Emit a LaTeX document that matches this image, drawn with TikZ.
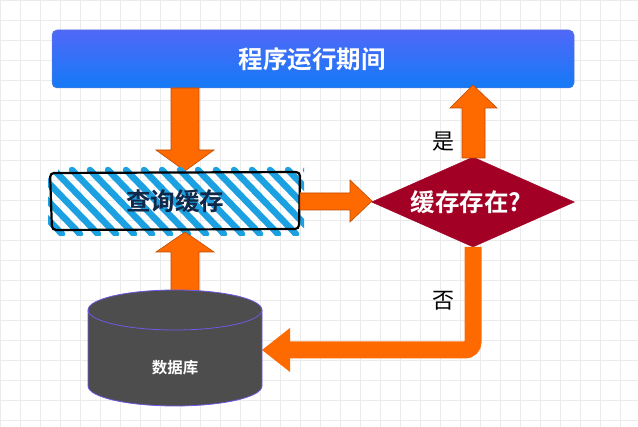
\documentclass[tikz,border=0pt]{standalone}
\usepackage{fontspec}
\setmainfont{Noto Sans CJK SC}[BoldFont={Noto Sans CJK SC Bold}]
\usetikzlibrary{shapes.geometric}
\definecolor{org}{HTML}{FF6A00}
\definecolor{orgd}{HTML}{C04A00}
\definecolor{hatch}{HTML}{1BA1E2}
\definecolor{navy}{HTML}{10284A}
\definecolor{wine}{HTML}{A20025}
\begin{document}
\begin{tikzpicture}[x=1pt,y=-1pt,
  barr/.style={fill=org,draw=orgd,line width=0.6pt},
  lbl/.style={font=\fontsize{24.5}{28}\selectfont\bfseries}]
\useasboundingbox (0,0) rectangle (638,427);
\fill[white] (0,0) rectangle (638,427);
\foreach \i in {0,20,...,640} \draw[black!8,line width=0.5pt] (\i,0) -- (\i,427);
\foreach \i in {0,20,...,420} \draw[black!8,line width=0.5pt] (0,\i) -- (638,\i);
% top bar
\shade[top color={rgb,255:red,80;green,104;blue,248},bottom color={rgb,255:red,20;green,122;blue,246},rounded corners=5pt] (52,30) rectangle (574,88);
\draw[rounded corners=5pt,draw={rgb,255:red,90;green,120;blue,220},line width=0.5pt] (52,30) rectangle (574,88);
\node[lbl,text=white] (run) at (312,59) {程序运行期间};
% arrow bar -> query
\draw[barr] (171,88) -- (199,88) -- (199,150) -- (214,150) -- (185,171) -- (156,150) -- (171,150) -- cycle;
% query box
\begin{scope}
\clip (48,166) rectangle (304,236);
\foreach \i in {-90,-72,...,320} \draw[hatch,line width=6.5pt,line cap=round] (\i,170) -- (\i+62,234);
\end{scope}
\fill[white] (46,166) rectangle (58,174);
\draw[black,line width=2.2pt,rounded corners=4pt] (50,173) -- (300,172) -- (299,229) -- (52,230) -- cycle;
\node[lbl,text=navy] (q) at (175,201) {查询缓存};
% arrow db -> query
\draw[barr] (171,292) -- (199,292) -- (199,252) -- (214,252) -- (185,232) -- (156,252) -- (171,252) -- cycle;
% arrow query -> diamond
\draw[barr] (300,193) -- (350,193) -- (350,180) -- (372,201) -- (350,222) -- (350,210) -- (300,210) -- cycle;
% diamond
\node[diamond,fill=wine,draw=wine,minimum width=203pt,minimum height=90pt,inner sep=0pt,aspect=2.25] (d) at (473,202) {};
\node[lbl,text=white] (dt) at (466,202) {缓存存在?};
% up arrow
\draw[barr] (462,158) -- (485,158) -- (485,108) -- (497,108) -- (473,85) -- (450,108) -- (462,108) -- cycle;
\node[font=\fontsize{22}{24}\selectfont] (yes) at (443,142) {是};
\node[font=\fontsize{22}{24}\selectfont] (no) at (443,301) {否};
% L path
\draw[org,line width=17pt,rounded corners=8pt] (473,247) -- (473,350) -- (288,350);
\fill[org] (290,328) -- (290,372) -- (262,350) -- cycle;
% cylinder
\draw[fill={rgb,255:red,77;green,77;blue,77},draw={rgb,255:red,110;green,90;blue,230},line width=0.8pt]
 (88,310) -- (88,386) arc[start angle=180,end angle=0,x radius=87,y radius=20] -- (262,310) arc[start angle=0,end angle=-180,x radius=87,y radius=20] -- cycle;
\draw[draw={rgb,255:red,110;green,90;blue,230},line width=0.8pt] (88,310) arc[start angle=180,end angle=0,x radius=87,y radius=20];
\node[text=white,font=\fontsize{15.5}{18}\selectfont\bfseries] (db) at (175,368) {数据库};
\end{tikzpicture}
\end{document}
